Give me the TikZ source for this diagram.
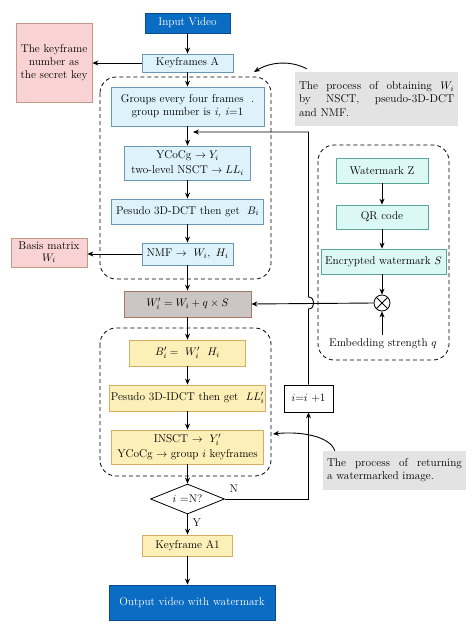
\documentclass[tikz,border=0pt]{standalone}
\usetikzlibrary{arrows.meta,calc,shapes.geometric}
\definecolor{dunkelblau}{HTML}{0B6CC4}
\definecolor{hellblau}{HTML}{DDF2FA}
\definecolor{randblau}{HTML}{6A98AE}
\definecolor{helltuerkis}{HTML}{DCF8F4}
\definecolor{randtuerkis}{HTML}{5AA59C}
\definecolor{rosa}{HTML}{F9D3D3}
\definecolor{randrosa}{HTML}{C09A86}
\definecolor{gelb}{HTML}{FDEFB8}
\definecolor{randgelb}{HTML}{D6AE62}
\definecolor{grau}{HTML}{CBC5C5}
\definecolor{randgrau}{HTML}{A27C62}
\definecolor{notiz}{HTML}{E3E3E3}
\begin{document}
\begin{tikzpicture}[x=1pt, y=-1pt, font=\fontsize{11.3}{13.3}\selectfont,
	box/.style={draw, line width=0.8pt, align=center, inner sep=1.5pt},
	blau/.style={box, fill=dunkelblau, draw=dunkelblau!70!black, text=white},
	hell/.style={box, fill=hellblau, draw=randblau},
	tuerkis/.style={box, fill=helltuerkis, draw=randtuerkis},
	schluessel/.style={box, fill=rosa, draw=randrosa},
	gelbbox/.style={box, fill=gelb, draw=randgelb},
	graubox/.style={box, fill=grau, draw=randgrau},
	notizbox/.style={fill=notiz, align=left, inner sep=4pt},
	gestrichelt/.style={dashed, dash pattern=on 4pt off 3pt, line width=0.8pt, rounded corners=16pt},
	pfeil/.style={-{Stealth[length=6pt, width=5pt]}, line width=0.9pt}]
	\useasboundingbox (0,0) rectangle (474,627);
	
	%Gruppen
	\draw[gestrichelt] (100,77) rectangle (271,279);
	\draw[gestrichelt] (100,328) rectangle (271,476);
	\draw[gestrichelt] (318,145) rectangle (449,360);
	
	%Hauptspalte
	\node[blau, minimum width=85, minimum height=20] (input) at (187.5,23) {Input Video};
	\node[hell, minimum width=91, minimum height=18] (keyA) at (187.5,63) {Keyframes A};
	\node[schluessel, minimum width=76, minimum height=79] (key) at (54,62.5) {The keyframe\\number as\\the secret key};
	\node[hell, minimum width=153, minimum height=39] (groups) at (187.5,106.5) {Groups every four frames\ \ .\\ group number is \textit{i, i}=1};
	\node[hell, minimum width=126, minimum height=34] (ycocg) at (187.5,163) {YCoCg $\rightarrow Y_i$\\[1.5pt]two-level NSCT $\rightarrow LL_i$};
	\node[hell, minimum width=152, minimum height=25] (dct) at (187.5,211.5) {Pesudo 3D-DCT then get\ \ $B_i$};
	\node[hell, minimum width=91, minimum height=22] (nmf) at (187.5,254) {NMF $\rightarrow\ W_i,\ H_i$};
	\node[schluessel, minimum width=76, minimum height=29] (basis) at (49,252.5) {Basis matrix\\[-2pt]$W_i$};
	\node[graubox, minimum width=127, minimum height=26] (wq) at (187.5,304) {$W_i' = W_i + q \times S$};
	\node[gelbbox, minimum width=116, minimum height=26] (bp) at (187.5,353) {$B_i' =\ W_i'\ \ H_i$};
	\node[gelbbox, minimum width=152, minimum height=26] (idct) at (187.5,398) {Pesudo 3D-IDCT then get\ \ $LL_i'$};
	\node[gelbbox, minimum width=152, minimum height=34] (insct) at (187.5,447) {INSCT $\rightarrow\ Y_i'$\\[2pt]YCoCg $\rightarrow$\ group $i$ keyframes};
	\node[draw, diamond, line width=0.8pt, aspect=2.5, inner sep=1pt, minimum width=74, minimum height=30] (dec) at (187.5,499) {$i$ =N?};
	\node[gelbbox, minimum width=90, minimum height=21] (a1) at (187.5,545.5) {Keyframe A1};
	\node[blau, minimum width=166, minimum height=35] (out) at (192,602.5) {Output video with watermark};
	\node[box, minimum width=49, minimum height=27] (inc) at (308.5,398.5) {$i$=$i$ +1};
	\node[anchor=south west] (nlab) at (226,496) {N};
	\node[anchor=west] (ylab) at (189,523) {Y};
	
	%Wasserzeichen
	\node[tuerkis, minimum width=92, minimum height=25] (wz) at (382,170.5) {Watermark Z};
	\node[tuerkis, minimum width=92, minimum height=24] (qr) at (382,217) {QR code};
	\node[tuerkis, minimum width=125, minimum height=25] (enc) at (383.5,261.5) {Encrypted watermark $S$};
	\node[draw, circle, line width=0.8pt, minimum size=16, inner sep=0pt] (ot) at (382,303) {};
	\draw[line width=0.8pt] (ot.north west) -- (ot.south east) (ot.north east) -- (ot.south west);
	\node (emb) at (383,344) {Embedding strength $q$};
	
	%Notizen
	\node[notizbox, text width=155, minimum height=54] (note1) at (376.5,99) {The\hfill process\hfill of\hfill obtaining\hfill $W_i$\\by\hfill NSCT,\hfill pseudo-3D-DCT\\and NMF.};
	\node[notizbox, text width=135, minimum height=39] (note2) at (394.5,470.5) {The\hfill process\hfill of\hfill returning\\a watermarked image.};
	\coordinate (p1) at (254,72);
	\coordinate (p2) at (273,434);
	\coordinate (back) at (193,132);
	
	%Pfeile
	\draw[pfeil] (input) -- (keyA);
	\draw[pfeil] (keyA.west) -- (key.east |- keyA.west);
	\draw[pfeil] (keyA) -- (groups);
	\draw[pfeil] (groups) -- (ycocg);
	\draw[pfeil] (ycocg) -- (dct);
	\draw[pfeil] (dct) -- (nmf);
	\draw[pfeil] (nmf.west) -- (basis.east |- nmf.west);
	\draw[pfeil] (nmf) -- (wq);
	\draw[pfeil] (wq) -- (bp);
	\draw[pfeil] (bp) -- (idct);
	\draw[pfeil] (idct) -- (insct);
	\draw[pfeil] (insct) -- (dec);
	\draw[pfeil] (dec) -- (a1);
	\draw[pfeil] (a1) -- (a1 |- out.north);
	\draw[pfeil] (dec.east) -- (inc.south |- dec.east) -- (inc.south);
	\draw[pfeil] (inc.north) -- ($(inc |- ot)+(0,6)$) .. controls ($(inc |- ot)+(7,6)$) and ($(inc |- ot)+(7,-6)$) .. ($(inc |- ot)+(0,-6)$) -- (inc |- back) -- (back);
	\draw[pfeil] (wz) -- (qr);
	\draw[pfeil] (qr) -- (qr |- enc.north);
	\draw[pfeil] (enc.south -| ot) -- (ot);
	\draw[pfeil] (emb.north -| ot) -- (ot.south);
	\draw[pfeil] (ot.west) -- (wq.east);
	\draw[pfeil] ($(note1.north west)+(12,-3)$) .. controls (290,60) and (270,62) .. (p1);
	\draw[pfeil] ($(note2.north west)+(12,0)$) .. controls (330,436) and (300,431) .. (p2);
	
\end{tikzpicture}
\end{document}
